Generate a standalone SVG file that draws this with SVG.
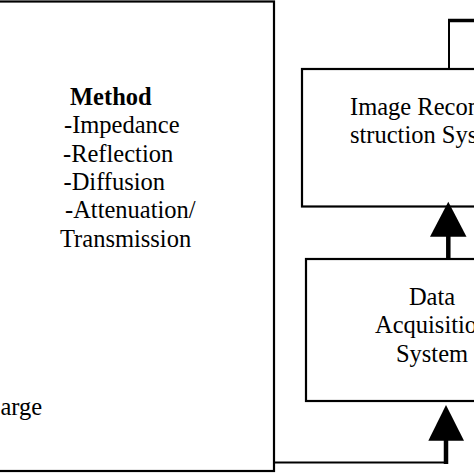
<svg xmlns="http://www.w3.org/2000/svg" width="474" height="474" viewBox="0 0 474 474">
<style>
.box{fill:#fff;stroke:#000;stroke-width:2.2}
.t{font-family:"Liberation Serif","Times New Roman",serif;font-size:24.5px;fill:#000}
.b{font-weight:bold}
.ln{fill:none;stroke:#000;stroke-width:2}
.shaft{fill:none;stroke:#000;stroke-width:4.5}
</style>
<rect width="474" height="474" fill="#fff"/>
<g id="method-box">
<rect class="box" x="-10" y="1.5" width="284" height="469.5" stroke-width="2.6"/>
<text class="t b" x="70" y="105">Method</text>
<text class="t" x="64" y="133">-Impedance</text>
<text class="t" x="63" y="161.5">-Reflection</text>
<text class="t" x="63.5" y="190">-Diffusion</text>
<text class="t" x="65" y="218">-Attenuation/</text>
<text class="t" x="60" y="246.5">Transmission</text>
<text class="t" x="0.5" y="415">arge</text>
</g>
<g id="image-reconstruction">
<rect class="box" x="302" y="69" width="200" height="137.5"/>
<text class="t" x="350" y="115">Image Recon</text>
<text class="t" x="350" y="143">struction Sys</text>
</g>
<g id="data-acquisition">
<rect class="box" x="306" y="259" width="200" height="142"/>
<text class="t" x="432" y="305" text-anchor="middle">Data</text>
<text class="t" x="375" y="333">Acquisitio</text>
<text class="t" x="432" y="361.5" text-anchor="middle">System</text>
</g>
<g id="connectors">
<path class="ln" d="M449 69 V20.5"/>
<path d="M448 20.5 H476" fill="none" stroke="#000" stroke-width="3.5"/>
<path class="shaft" d="M448.3 259 V220"/>
<path d="M448.3 201.7 L466.5 236.7 L430 236.7 Z" fill="#000"/>
<path class="ln" d="M273 462.5 H446"/>
<path class="shaft" d="M446 464 V425"/>
<path d="M446 405 L464 440.7 L428.3 440.7 Z" fill="#000"/>
</g>
</svg>
